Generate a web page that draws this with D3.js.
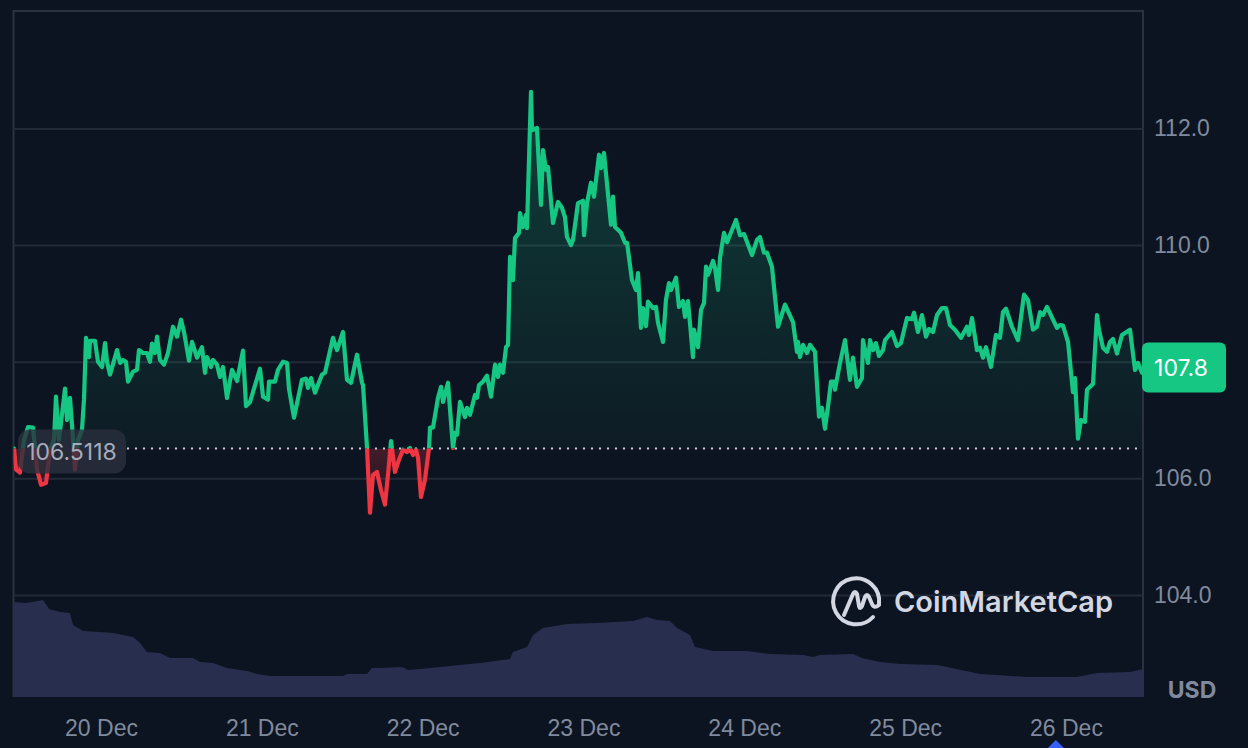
<!DOCTYPE html>
<html>
<head>
<meta charset="utf-8">
<script src="https://cdn.jsdelivr.net/npm/d3@7/dist/d3.min.js"></script>
<style>
    html, body { margin: 0; padding: 0; background: #0d1421; }
    svg { display: block; font-family: Inter, "Noto Sans", sans-serif; }
</style>
</head>
<body>
<svg id="chart" width="1248" height="748"></svg>
<script>
// hours counted from 20 Dec 00:00
const priceHours = [-12.98,-12.68,-12.09,-11.49,-10.89,-10.15,-9.55,-8.95,-8.21,-7.61,-7.01,-6.72,-6.27,-5.37,-5.07,-4.63,-4.33,-3.88,-3.43,-2.84,-2.54,-2.24,-1.79,-1.64,-0.90,-0.45,0.15,0.60,0.90,1.34,2.39,2.84,3.28,3.73,4.03,4.78,5.37,5.67,6.27,6.86,7.31,7.61,8.06,8.36,8.80,9.40,10.00,10.74,11.34,11.94,12.39,13.13,13.58,14.33,15.07,15.52,15.82,16.42,16.71,17.31,17.76,18.21,18.80,19.55,20.30,21.19,21.64,22.24,23.73,24.18,24.92,25.07,25.97,26.41,27.16,27.76,28.05,28.80,29.99,30.59,30.89,31.34,31.93,32.98,33.43,34.62,35.22,36.11,36.71,37.31,38.20,38.95,39.10,39.70,40.14,40.59,41.19,41.78,42.38,42.83,43.28,43.87,44.47,45.07,45.66,46.11,46.56,47.01,47.31,47.75,48.35,48.95,49.10,49.54,50.29,50.74,51.04,51.78,52.53,52.83,53.13,53.57,54.32,54.62,55.07,55.81,56.11,56.41,57.01,57.60,58.20,58.80,59.24,59.54,59.99,60.44,60.74,61.04,61.48,61.78,62.38,62.53,62.97,63.42,63.57,64.17,64.32,65.06,65.66,65.96,66.41,66.71,67.45,68.20,68.79,69.24,69.54,70.14,70.44,71.18,71.93,72.08,72.53,73.12,73.57,74.32,74.62,75.06,76.11,76.41,76.71,77.60,78.20,78.50,79.24,79.84,80.14,80.58,80.88,81.33,81.63,82.37,82.82,83.12,83.87,84.31,84.76,85.06,85.81,86.25,86.85,87.15,87.60,88.34,88.49,89.09,89.54,89.99,90.29,90.58,91.33,91.63,92.08,92.37,92.97,93.42,94.76,95.36,95.96,97.15,97.90,98.34,98.94,99.39,100.13,101.03,102.07,103.27,103.86,104.01,104.31,104.76,105.36,105.80,106.55,107.15,107.59,108.04,108.49,108.94,109.38,109.53,110.28,111.03,111.77,112.22,112.82,113.56,113.71,114.46,114.76,115.21,115.65,116.10,116.70,117.00,118.04,118.79,119.38,120.28,121.03,121.33,121.92,122.52,123.11,123.56,124.16,124.76,125.50,126.10,126.70,127.44,128.34,129.23,129.53,129.98,130.73,131.17,131.62,132.07,132.81,133.56,134.16,134.60,135.05,135.95,136.84,137.74,138.33,139.08,139.68,140.13,140.57,141.17,142.66,143.11,143.56,144.31,145.05,145.35,145.80,146.25,146.84,147.14,148.04,148.63,148.93,149.53,150.12,150.57,151.02,151.62,152.37,153.56,154.31,154.75,155.35];
const priceValues = [106.51,106.15,106.10,106.66,106.88,106.87,106.15,105.89,105.92,106.49,106.66,107.40,106.66,107.54,107.00,107.38,106.92,106.15,106.66,106.83,107.35,108.41,108.08,108.36,108.36,108.00,107.91,108.32,108.00,107.78,108.20,107.98,108.03,108.00,107.66,107.83,107.86,108.20,108.15,108.15,108.00,108.31,108.15,108.43,108.03,107.95,108.15,108.60,108.43,108.72,108.51,108.02,108.34,108.07,108.25,107.81,108.08,107.91,108.03,107.95,107.74,107.91,107.38,107.86,107.67,108.19,107.24,107.31,107.88,107.40,107.35,107.66,107.66,107.86,108.00,107.98,107.54,107.04,107.69,107.71,107.55,107.72,107.47,107.78,107.81,108.41,108.20,108.51,107.69,107.64,108.12,107.64,107.60,106.52,105.41,106.06,106.11,105.80,105.55,106.06,106.64,106.11,106.32,106.49,106.45,106.52,106.40,106.49,106.35,105.68,105.98,106.52,106.87,106.87,107.38,107.57,107.31,107.64,106.52,106.78,106.75,107.31,107.05,107.21,107.09,107.43,107.38,107.60,107.66,107.76,107.40,107.95,107.74,107.95,107.81,108.25,108.29,109.80,109.40,110.12,110.21,110.55,110.31,110.52,110.29,112.63,111.97,112.01,110.69,111.63,111.29,111.34,110.38,110.74,110.64,110.48,110.14,110.00,110.09,110.72,110.76,110.17,110.72,111.07,110.83,111.55,111.32,111.58,110.35,110.83,110.31,110.21,110.04,110.04,109.40,109.23,109.52,108.58,108.92,108.61,109.03,108.92,108.94,108.67,108.34,109.06,109.35,109.23,109.44,108.94,109.04,108.77,109.04,108.08,108.55,108.25,108.89,109.01,109.63,109.49,109.73,109.61,109.23,109.78,110.21,110.05,110.43,110.17,110.19,109.83,110.09,110.14,109.87,109.87,109.63,108.60,108.98,108.68,108.17,108.34,108.08,108.29,108.15,108.29,108.17,107.06,107.21,106.85,107.23,107.66,107.66,107.52,107.98,108.37,107.69,108.07,107.57,107.72,108.37,107.98,108.37,108.20,108.32,108.10,108.20,108.37,108.51,108.27,108.32,108.75,108.73,108.84,108.51,108.80,108.43,108.56,108.51,108.80,108.92,108.92,108.63,108.55,108.41,108.60,108.46,108.75,108.20,108.24,108.07,108.25,107.91,108.46,108.41,108.85,108.91,108.60,108.37,109.15,109.06,108.55,108.60,108.85,108.80,108.94,108.58,108.63,108.62,108.34,107.48,107.72,106.68,107.00,106.97,107.52,107.62,108.80,108.55,108.24,108.17,108.34,108.39,108.14,108.46,108.55,107.86,107.98,107.81];
const volumeHours = [-13.06,-12.83,-11.34,-10.15,-8.66,-7.76,-6.12,-4.63,-4.18,-2.69,-0.15,1.79,4.78,5.82,6.86,8.80,10.30,13.73,14.77,16.71,18.80,21.79,23.28,25.22,36.11,36.71,39.70,40.44,41.64,44.92,45.81,47.60,50.59,53.57,56.56,61.04,61.48,63.57,64.47,65.96,69.54,74.02,79.39,81.48,82.97,84.91,85.96,87.90,88.64,91.33,96.40,99.83,104.76,106.25,107.30,112.22,113.56,116.25,119.24,124.76,126.25,131.17,133.71,138.19,145.65,148.63,153.56,155.50];
const volumeValues = [95,95,94,95,97,88,85,84,72,66,65,64,60,54,45,44,39,39,35,34,29,26,23,21,21,23,23,29,29,30,27,28,30,32,34,38,45,50,62,69,73,74,76,80,77,76,69,62,50,46,46,43,42,40,42,43,39,35,33,32,30,23,22,20,20,24,25,28];
const priceTicks = [104, 106, 108, 110, 112];
const dayTicks = [0, 1, 2, 3, 4, 5, 6];
const baseline = 106.5118;
const lastPrice = 107.8;

const width = 1248;
const height = 748;
const plot = { left: 13.5, right: 1143, top: 11, bottom: 697 };
const green = "#16c784";
const red = "#ee3542";
const dayZero = Date.UTC(2024, 11, 20);
const toDate = h => new Date(dayZero + h * 3600000);

const svg = d3.select("#chart");

const x = d3.scaleUtc()
    .domain([toDate(-13.06), toDate(155.5)])
    .range([plot.left, plot.right]);
const y = d3.scaleLinear()
    .domain([102.25, 114.015])
    .range([plot.bottom, plot.top]);
const yVolume = d3.scaleLinear()
    .domain([0, 100])
    .range([plot.bottom, plot.bottom - 100]);

const price = priceHours.map((h, i) => ({ t: toDate(h), v: priceValues[i] }));
const volume = volumeHours.map((h, i) => ({ t: toDate(h), v: volumeValues[i] }));

const defs = svg.append("defs");
defs.append("clipPath").attr("id", "clipUp").append("rect")
    .attr("x", plot.left).attr("y", 0)
    .attr("width", plot.right - plot.left).attr("height", y(baseline));
defs.append("clipPath").attr("id", "clipDown").append("rect")
    .attr("x", plot.left).attr("y", y(baseline))
    .attr("width", plot.right - plot.left).attr("height", height - y(baseline));

const upFill = defs.append("linearGradient").attr("id", "upFill")
    .attr("gradientUnits", "userSpaceOnUse")
    .attr("x1", 0).attr("x2", 0).attr("y1", y(112.6)).attr("y2", y(baseline));
upFill.append("stop").attr("offset", 0).attr("stop-color", green).attr("stop-opacity", 0.24);
upFill.append("stop").attr("offset", 1).attr("stop-color", green).attr("stop-opacity", 0.04);
const downFill = defs.append("linearGradient").attr("id", "downFill")
    .attr("gradientUnits", "userSpaceOnUse")
    .attr("x1", 0).attr("x2", 0).attr("y1", y(baseline)).attr("y2", y(105.4));
downFill.append("stop").attr("offset", 0).attr("stop-color", red).attr("stop-opacity", 0.24);
downFill.append("stop").attr("offset", 1).attr("stop-color", red).attr("stop-opacity", 0.05);

// frame
svg.append("path")
    .attr("d", `M${plot.left},${plot.bottom}V${plot.top}H${plot.right}V${plot.bottom}`)
    .attr("fill", "none").attr("stroke", "#2a3140").attr("stroke-width", 2);

// grid and price labels, the 108 label sits behind the last price tag
const yAxis = d3.axisRight(y)
    .tickValues(priceTicks)
    .tickSize(-(plot.right - plot.left))
    .tickPadding(11)
    .tickFormat(d => d === 108 ? "" : d3.format(".1f")(d));
const yG = svg.append("g").attr("transform", `translate(${plot.right},0)`).call(yAxis);
yG.select(".domain").remove();
yG.selectAll("line").attr("stroke", "#222a38").attr("stroke-width", 2);
yG.selectAll("text").attr("fill", "#808a9d").attr("font-size", 23);

const xAxis = d3.axisBottom(x)
    .tickValues(dayTicks.map(d => toDate(d * 24)))
    .tickSize(0)
    .tickPadding(23)
    .tickFormat(d3.utcFormat("%-d %b"));
const xG = svg.append("g").attr("transform", `translate(0,${plot.bottom})`).call(xAxis);
xG.select(".domain").remove();
xG.selectAll("text").attr("fill", "#808a9d").attr("font-size", 23);

// volume
svg.append("path")
    .datum(volume)
    .attr("fill", "#282e4e")
    .attr("d", d3.area().x(d => x(d.t)).y0(plot.bottom).y1(d => yVolume(d.v)));

// price fills
const area = d3.area().x(d => x(d.t)).y0(y(baseline)).y1(d => y(d.v));
svg.append("path").datum(price).attr("clip-path", "url(#clipUp)").attr("fill", "url(#upFill)").attr("d", area);
svg.append("path").datum(price).attr("clip-path", "url(#clipDown)").attr("fill", "url(#downFill)").attr("d", area);

// baseline
svg.append("line")
    .attr("x1", 127).attr("x2", plot.right - 3)
    .attr("y1", y(baseline)).attr("y2", y(baseline))
    .attr("stroke", "#c9cedb").attr("stroke-width", 2)
    .attr("stroke-dasharray", "2 6");

// price line
const line = d3.line().x(d => x(d.t)).y(d => y(d.v));
[["clipUp", green], ["clipDown", red]].forEach(([clip, colour]) => {
    svg.append("path").datum(price)
        .attr("clip-path", `url(#${clip})`)
        .attr("fill", "none")
        .attr("stroke", colour)
        .attr("stroke-width", 4.2)
        .attr("stroke-linejoin", "round")
        .attr("stroke-linecap", "round")
        .attr("d", line);
});

// baseline tag
svg.append("rect")
    .attr("x", 18).attr("y", y(baseline) - 19)
    .attr("width", 108).attr("height", 44).attr("rx", 12)
    .attr("fill", "#2b303d").attr("fill-opacity", 0.8);
svg.append("text")
    .attr("x", 71.5).attr("y", y(baseline) + 3)
    .attr("text-anchor", "middle").attr("dominant-baseline", "central")
    .attr("fill", "#a6acbc").attr("font-size", 23)
    .text(baseline.toFixed(4));

// last price tag
const lastY = y(lastPrice) - 6;
svg.append("rect")
    .attr("x", plot.right - 1).attr("y", lastY - 25)
    .attr("width", 84).attr("height", 50).attr("rx", 6)
    .attr("fill", green);
svg.append("text")
    .attr("x", 1181).attr("y", lastY + 1)
    .attr("text-anchor", "middle").attr("dominant-baseline", "central")
    .attr("fill", "#ffffff").attr("font-size", 23)
    .text(lastPrice.toFixed(1));

svg.append("text")
    .attr("x", 1192).attr("y", 690)
    .attr("text-anchor", "middle").attr("dominant-baseline", "central")
    .attr("fill", "#808a9d").attr("font-size", 23).attr("font-weight", 700)
    .text("USD");

// watermark
const logo = svg.append("g").attr("fill", "none").attr("stroke", "#d3d7e2")
    .attr("stroke-width", 4).attr("stroke-linecap", "round").attr("stroke-linejoin", "round");
logo.append("path").attr("d", "M873,617 A23,23 0 1 1 879,604");
logo.append("path").attr("d", "M844,615 L853,594 Q855,590 857,594 L859,606 Q860,610 862,606 L865,597 Q867,593 869,597 L872,604 Q874,609 879,605");
svg.append("text")
    .attr("x", 894).attr("y", 601)
    .attr("dominant-baseline", "central")
    .attr("fill", "#d3d7e2").attr("font-size", 29).attr("font-weight", 600)
    .text("CoinMarketCap");

// current day marker
svg.append("path")
    .attr("d", d3.line()([[x(toDate(142.5)) - 10, 750], [x(toDate(142.5)), 740], [x(toDate(142.5)) + 10, 750]]))
    .attr("fill", "#3861fb");
</script>
</body>
</html>
